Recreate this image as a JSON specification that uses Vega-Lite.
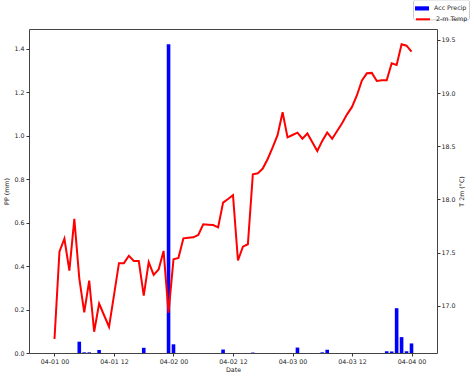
{
  "$schema": "https://vega.github.io/schema/vega-lite/v6.json",
  "autosize": {"type": "none"},
  "padding": {"left": 29, "top": 29, "right": 37, "bottom": 26},
  "width": 408,
  "height": 324,
  "background": "white",
  "config": {
    "font": "DejaVu Sans",
    "view": {"stroke": "#444", "strokeWidth": 1},
    "axis": {"domain": false, "grid": false, "tickColor": "#333", "tickSize": 3, "labelFontSize": 6.3, "labelColor": "#222", "labelPadding": 2, "titleFontSize": 6.3, "titleFontWeight": "normal", "titleColor": "#222"},
    "legend": {"labelFontSize": 6.3, "labelColor": "#222", "labelOffset": 5, "padding": 0}
  },
  "title": {"text": ["2-m temperature and accumulated precipitation at", "lat = -40.00, lon = -50.00"], "fontSize": 7.6, "fontWeight": "normal", "color": "#111", "lineHeight": 10, "anchor": "middle", "frame": "group", "offset": 1, "dy": 3},
  "data": {"values": [
    {"date": "2024-04-01T00:00:00Z", "pp": 0, "t": 16.687},
    {"date": "2024-04-01T01:00:00Z", "pp": 0, "t": 17.508},
    {"date": "2024-04-01T02:00:00Z", "pp": 0, "t": 17.63},
    {"date": "2024-04-01T03:00:00Z", "pp": 0, "t": 17.33},
    {"date": "2024-04-01T04:00:00Z", "pp": 0, "t": 17.816},
    {"date": "2024-04-01T05:00:00Z", "pp": 0.052, "t": 17.258},
    {"date": "2024-04-01T06:00:00Z", "pp": 0.003, "t": 16.938},
    {"date": "2024-04-01T07:00:00Z", "pp": 0.003, "t": 17.235},
    {"date": "2024-04-01T08:00:00Z", "pp": 0, "t": 16.755},
    {"date": "2024-04-01T09:00:00Z", "pp": 0.014, "t": 17.02},
    {"date": "2024-04-01T10:00:00Z", "pp": 0, "t": 16.91},
    {"date": "2024-04-01T11:00:00Z", "pp": 0, "t": 16.80},
    {"date": "2024-04-01T12:00:00Z", "pp": 0, "t": 17.10},
    {"date": "2024-04-01T13:00:00Z", "pp": 0, "t": 17.40},
    {"date": "2024-04-01T14:00:00Z", "pp": 0, "t": 17.40},
    {"date": "2024-04-01T15:00:00Z", "pp": 0, "t": 17.47},
    {"date": "2024-04-01T16:00:00Z", "pp": 0, "t": 17.42},
    {"date": "2024-04-01T17:00:00Z", "pp": 0, "t": 17.42},
    {"date": "2024-04-01T18:00:00Z", "pp": 0.024, "t": 17.094},
    {"date": "2024-04-01T19:00:00Z", "pp": 0, "t": 17.41},
    {"date": "2024-04-01T20:00:00Z", "pp": 0, "t": 17.29},
    {"date": "2024-04-01T21:00:00Z", "pp": 0, "t": 17.34},
    {"date": "2024-04-01T22:00:00Z", "pp": 0, "t": 17.515},
    {"date": "2024-04-01T23:00:00Z", "pp": 1.42, "t": 16.934},
    {"date": "2024-04-02T00:00:00Z", "pp": 0.04, "t": 17.436},
    {"date": "2024-04-02T01:00:00Z", "pp": 0, "t": 17.45},
    {"date": "2024-04-02T02:00:00Z", "pp": 0, "t": 17.634},
    {"date": "2024-04-02T03:00:00Z", "pp": 0, "t": 17.64},
    {"date": "2024-04-02T04:00:00Z", "pp": 0, "t": 17.643},
    {"date": "2024-04-02T05:00:00Z", "pp": 0, "t": 17.665},
    {"date": "2024-04-02T06:00:00Z", "pp": 0, "t": 17.766},
    {"date": "2024-04-02T07:00:00Z", "pp": 0, "t": 17.762},
    {"date": "2024-04-02T08:00:00Z", "pp": 0, "t": 17.759},
    {"date": "2024-04-02T09:00:00Z", "pp": 0, "t": 17.737},
    {"date": "2024-04-02T10:00:00Z", "pp": 0.016, "t": 17.97},
    {"date": "2024-04-02T11:00:00Z", "pp": 0, "t": 18.004},
    {"date": "2024-04-02T12:00:00Z", "pp": 0, "t": 18.04},
    {"date": "2024-04-02T13:00:00Z", "pp": 0, "t": 17.425},
    {"date": "2024-04-02T14:00:00Z", "pp": 0, "t": 17.555},
    {"date": "2024-04-02T15:00:00Z", "pp": 0, "t": 17.578},
    {"date": "2024-04-02T16:00:00Z", "pp": 0.002, "t": 18.236},
    {"date": "2024-04-02T17:00:00Z", "pp": 0, "t": 18.245},
    {"date": "2024-04-02T18:00:00Z", "pp": 0, "t": 18.29},
    {"date": "2024-04-02T19:00:00Z", "pp": 0, "t": 18.38},
    {"date": "2024-04-02T20:00:00Z", "pp": 0, "t": 18.49},
    {"date": "2024-04-02T21:00:00Z", "pp": 0, "t": 18.606},
    {"date": "2024-04-02T22:00:00Z", "pp": 0, "t": 18.82},
    {"date": "2024-04-02T23:00:00Z", "pp": 0, "t": 18.584},
    {"date": "2024-04-03T00:00:00Z", "pp": 0, "t": 18.606},
    {"date": "2024-04-03T01:00:00Z", "pp": 0.025, "t": 18.628},
    {"date": "2024-04-03T02:00:00Z", "pp": 0, "t": 18.571},
    {"date": "2024-04-03T03:00:00Z", "pp": 0, "t": 18.62},
    {"date": "2024-04-03T04:00:00Z", "pp": 0, "t": 18.537},
    {"date": "2024-04-03T05:00:00Z", "pp": 0, "t": 18.455},
    {"date": "2024-04-03T06:00:00Z", "pp": 0.003, "t": 18.55},
    {"date": "2024-04-03T07:00:00Z", "pp": 0.015, "t": 18.63},
    {"date": "2024-04-03T08:00:00Z", "pp": 0, "t": 18.57},
    {"date": "2024-04-03T09:00:00Z", "pp": 0, "t": 18.643},
    {"date": "2024-04-03T10:00:00Z", "pp": 0, "t": 18.716},
    {"date": "2024-04-03T11:00:00Z", "pp": 0, "t": 18.80},
    {"date": "2024-04-03T12:00:00Z", "pp": 0, "t": 18.87},
    {"date": "2024-04-03T13:00:00Z", "pp": 0, "t": 18.98},
    {"date": "2024-04-03T14:00:00Z", "pp": 0, "t": 19.12},
    {"date": "2024-04-03T15:00:00Z", "pp": 0, "t": 19.186},
    {"date": "2024-04-03T16:00:00Z", "pp": 0, "t": 19.19},
    {"date": "2024-04-03T17:00:00Z", "pp": 0, "t": 19.114},
    {"date": "2024-04-03T18:00:00Z", "pp": 0, "t": 19.12},
    {"date": "2024-04-03T19:00:00Z", "pp": 0.008, "t": 19.12},
    {"date": "2024-04-03T20:00:00Z", "pp": 0.007, "t": 19.28},
    {"date": "2024-04-03T21:00:00Z", "pp": 0.206, "t": 19.264},
    {"date": "2024-04-03T22:00:00Z", "pp": 0.073, "t": 19.46},
    {"date": "2024-04-03T23:00:00Z", "pp": 0.008, "t": 19.446},
    {"date": "2024-04-04T00:00:00Z", "pp": 0.044, "t": 19.39}
  ]},
  "encoding": {
    "x": {"field": "date", "type": "temporal", "title": "Date",
      "scale": {"type": "utc", "domain": [{"year": 2024, "month": 3, "date": 31, "hours": 19, "minutes": 52, "utc": true}, {"year": 2024, "month": 4, "date": 4, "hours": 4, "minutes": 8, "utc": true}]},
      "axis": {"format": "%m-%d %H", "values": [
        {"year": 2024, "month": 4, "date": 1, "hours": 0, "utc": true},
        {"year": 2024, "month": 4, "date": 1, "hours": 12, "utc": true},
        {"year": 2024, "month": 4, "date": 2, "hours": 0, "utc": true},
        {"year": 2024, "month": 4, "date": 2, "hours": 12, "utc": true},
        {"year": 2024, "month": 4, "date": 3, "hours": 0, "utc": true},
        {"year": 2024, "month": 4, "date": 3, "hours": 12, "utc": true},
        {"year": 2024, "month": 4, "date": 4, "hours": 0, "utc": true}
      ], "labelAngle": 0, "titlePadding": 2, "labelPadding": 2}}
  },
  "layer": [
    {
      "mark": {"type": "bar", "width": 3.6},
      "encoding": {
        "y": {"field": "pp", "type": "quantitative", "title": "PP (mm)", "scale": {"domain": [0, 1.49], "nice": false, "zero": true}, "axis": {"orient": "left", "values": [0, 0.2, 0.4, 0.6, 0.8, 1.0, 1.2, 1.4], "format": ".1f", "titlePadding": 4}},
        "fill": {"datum": "Acc Precip", "type": "nominal", "scale": {"domain": ["Acc Precip"], "range": ["#0000ff"]},
          "legend": {"orient": "none", "legendX": 384, "legendY": -29.6, "padding": 2, "title": " ", "titleOrient": "bottom", "titleFontSize": 4, "titlePadding": 2, "strokeColor": "#cccccc", "fillColor": "white", "cornerRadius": 2, "symbolType": "M-1,-0.3H1V0.3H-1Z", "symbolSize": 196, "symbolStrokeWidth": 0}}
      }
    },
    {
      "mark": {"type": "line", "strokeWidth": 2, "interpolate": "linear"},
      "encoding": {
        "y": {"field": "t", "type": "quantitative", "title": "T 2m (°C)", "scale": {"domain": [16.555, 19.603], "nice": false, "zero": false}, "axis": {"orient": "right", "values": [17.0, 17.5, 18.0, 18.5, 19.0, 19.5], "format": ".1f", "titleAngle": 270, "titleBaseline": "top", "titlePadding": 3, "labelPadding": 1}},
        "stroke": {"datum": "2-m Temp", "type": "nominal", "scale": {"domain": ["2-m Temp"], "range": ["#ff0000"]},
          "legend": {"orient": "none", "legendX": 386, "legendY": -17.7, "title": null, "symbolType": "stroke", "symbolSize": 196, "symbolStrokeWidth": 2}}
      }
    }
  ],
  "resolve": {"scale": {"y": "independent"}}
}
